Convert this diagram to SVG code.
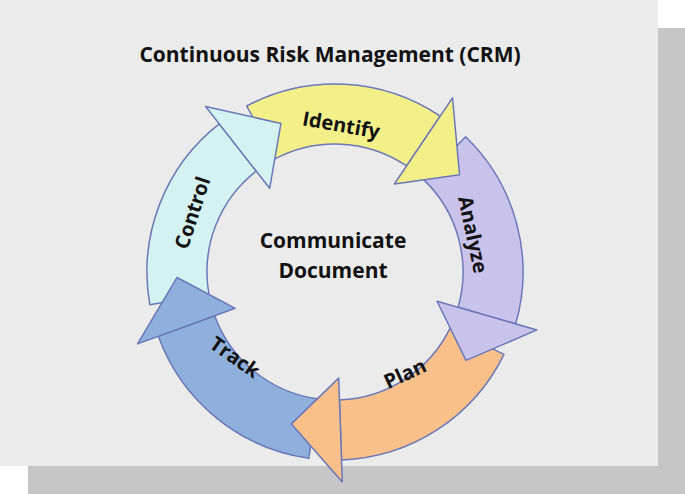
<svg xmlns="http://www.w3.org/2000/svg" width="685" height="494" viewBox="0 0 685 494">
<style>
.b{stroke:#6b78b8;stroke-width:1.5;stroke-linejoin:round}
.t{font-family:"Open Sans","Liberation Sans",sans-serif;font-weight:bold;fill:#111;text-anchor:middle}
</style>
<defs>
<path id="body" d="M186.2,-26.2 A188,188 0 0 1 110.5,152.1 L75.2,103.6 A128,128 0 0 0 126.8,-17.8 Z"/>
<path id="head" d="M123.5,170.0 L48.8,150.3 L62.4,85.9 Z"/>
</defs>
<rect width="685" height="494" fill="#fff"/>
<rect x="28" y="28" width="657" height="466" fill="#c6c6c6"/>
<rect x="0" y="0" width="658" height="466" fill="#ebebeb"/>
<text class="t" x="330" y="62" font-size="21">Continuous Risk Management (CRM)</text>
<g id="connectors" transform="translate(335,272)">
<g id="bodies">
<use href="#body" class="b" fill="#f3f08a" transform="rotate(-110)"/>
<use href="#body" class="b" fill="#c9c3ec" transform="rotate(-38)"/>
<use href="#body" class="b" fill="#f9c08a" transform="rotate(34)"/>
<use href="#body" class="b" fill="#8fb0dc" transform="rotate(106)"/>
<use href="#body" class="b" fill="#d4f2f2" transform="rotate(178)"/>
</g>
<g id="heads">
<use href="#head" class="b" fill="#f3f08a" transform="rotate(-110)"/>
<use href="#head" class="b" fill="#c9c3ec" transform="rotate(-38)"/>
<use href="#head" class="b" fill="#f9c08a" transform="rotate(34)"/>
<use href="#head" class="b" fill="#8fb0dc" transform="rotate(106)"/>
<use href="#head" class="b" fill="#d4f2f2" transform="rotate(178)"/>
</g>
</g>
<g id="identify"><text class="t" font-size="20" transform="translate(340,132) rotate(10)">Identify</text></g>
<g id="analyze"><text class="t" font-size="20" transform="translate(466,236) rotate(78)">Analyze</text></g>
<g id="plan"><text class="t" font-size="20" transform="translate(408,380) rotate(-25)">Plan</text></g>
<g id="track"><text class="t" font-size="20" transform="translate(231,363) rotate(35)">Track</text></g>
<g id="control"><text class="t" font-size="20" transform="translate(199,215) rotate(-72)">Control</text></g>
<g id="center">
<text class="t" x="333" y="248" font-size="21">Communicate</text>
<text class="t" x="333" y="278" font-size="21">Document</text>
</g>
</svg>
